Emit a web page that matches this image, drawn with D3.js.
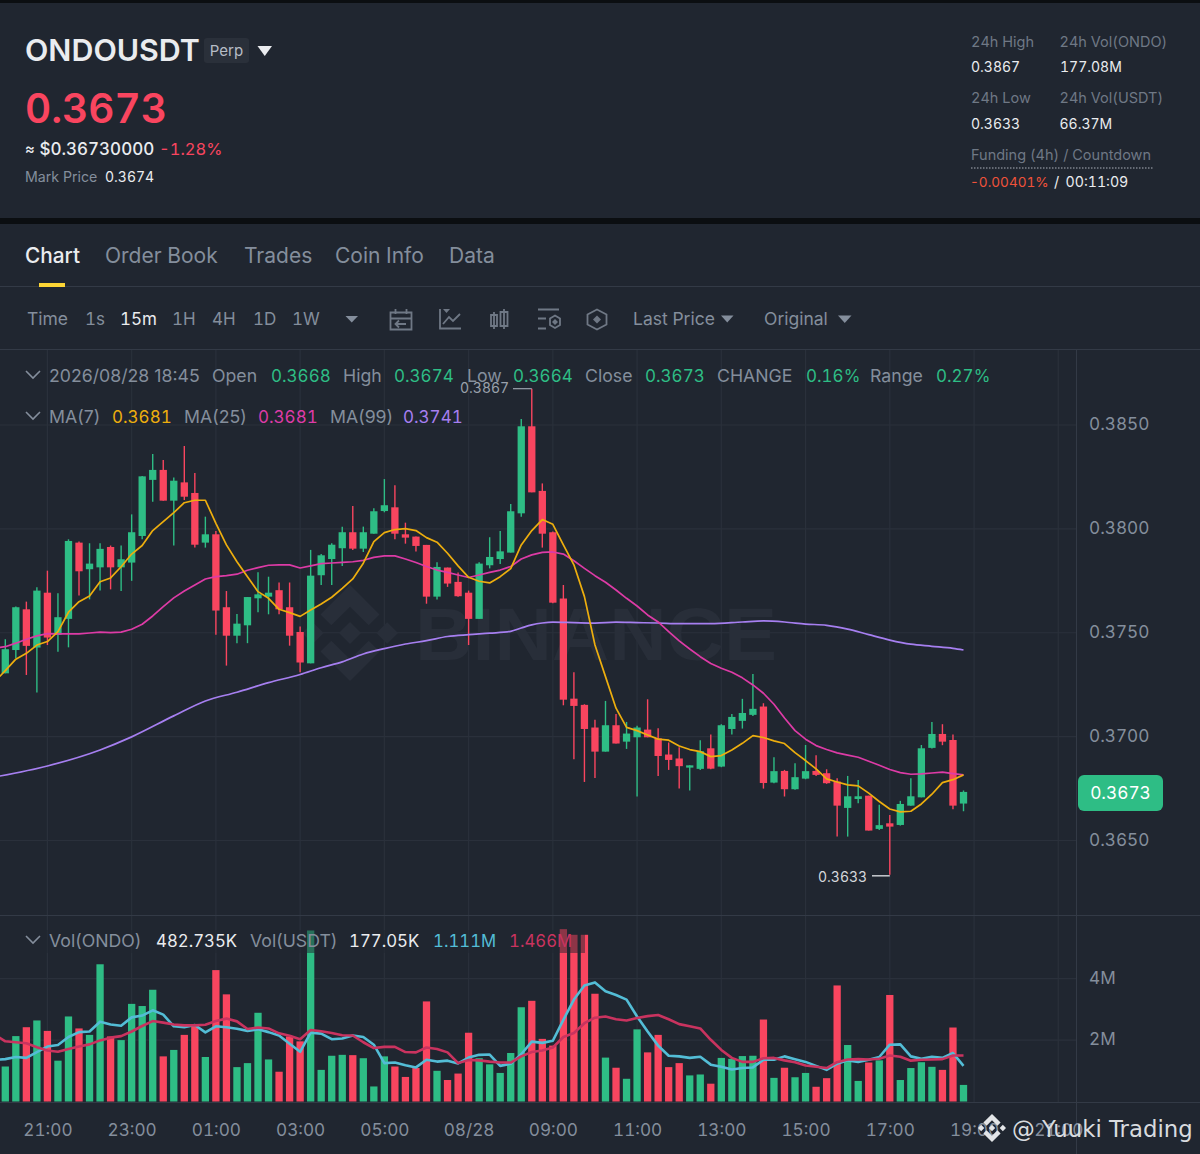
<!DOCTYPE html>
<html><head><meta charset="utf-8">
<script src="https://cdn.jsdelivr.net/npm/d3@7"></script>
<style>html,body{margin:0;padding:0;background:#202630;overflow:hidden}svg{display:block}text{font-family:Inter,"Noto Sans",sans-serif;font-variant-numeric:tabular-nums;font-feature-settings:"tnum" 1}</style>
</head><body><svg id="c" width="1200" height="1154"></svg>
<script>
// candles, index 0 = 20:00 on 08/27, 15 minute interval
const open=[.37300,.37412,.37608,.37424,.37688,.37485,.37562,.37929,.37801,.37810,.37908,.37810,.37833,.37961,.38231,.38279,.38131,.38219,.38168,.37929,.37969,.37618,.37481,.37531,.37661,.37669,.37700,.37618,.37499,.37348,.37772,.37850,.37902,.37979,.37900,.37972,.38081,.38099,.37969,.37958,.37918,.37669,.37809,.37740,.37688,.37562,.37820,.37850,.37881,.38070,.38489,.38178,.37979,.37660,.37178,.37148,.37039,.36923,.37050,.36971,.36992,.37029,.36987,.36909,.36890,.36846,.36840,.36939,.36851,.37032,.37071,.37100,.37140,.36774,.36830,.36742,.36793,.36830,.36819,.36779,.36652,.36695,.36711,.36551,.36578,.36570,.36663,.36703,.36941,.37008,.36979,.36673];
const high=[.37464,.37621,.37645,.37714,.37794,.37685,.37945,.37934,.37926,.37926,.37915,.37915,.38065,.38250,.38356,.38327,.38243,.38394,.38264,.38054,.37985,.37696,.37586,.37667,.37786,.37765,.37737,.37737,.37525,.37894,.37874,.37926,.38006,.38105,.38006,.38094,.38235,.38205,.38025,.37959,.37918,.37834,.37809,.37785,.37698,.37834,.37955,.37985,.38115,.38524,.38670,.38214,.37982,.37725,.37305,.37151,.37076,.37167,.37104,.37066,.37047,.37175,.37035,.36967,.36944,.36857,.36978,.37005,.37055,.37104,.37177,.37297,.37156,.36896,.36835,.36867,.36955,.36906,.36838,.36795,.36806,.36787,.36711,.36667,.36618,.36686,.36795,.36955,.37066,.37055,.37005,.36736];
const low=[.37300,.37372,.37292,.37207,.37436,.37404,.37425,.37674,.37656,.37698,.37704,.37696,.37745,.37945,.38126,.38131,.37915,.38134,.37905,.37905,.37485,.37337,.37445,.37445,.37594,.37584,.37584,.37433,.37305,.37348,.37725,.37725,.37817,.37894,.37884,.37972,.38075,.37945,.37924,.37886,.37635,.37655,.37716,.37669,.37436,.37562,.37805,.37826,.37881,.38054,.38171,.37905,.37637,.37146,.36886,.36777,.36796,.36923,.36962,.36936,.36707,.36992,.36806,.36835,.36745,.36736,.36835,.36838,.36848,.37005,.37034,.37095,.36745,.36771,.36707,.36739,.36790,.36806,.36768,.36514,.36514,.36675,.36543,.36546,.36330,.36567,.36663,.36703,.36938,.36954,.36646,.36636];
const close=[.37416,.37618,.37432,.37698,.37472,.37570,.37937,.37791,.37828,.37899,.37810,.37849,.37979,.38248,.38279,.38131,.38227,.38150,.37919,.37969,.37602,.37481,.37539,.37667,.37680,.37688,.37608,.37481,.37352,.37770,.37868,.37919,.37979,.37900,.37979,.38080,.38109,.37972,.37953,.37913,.37669,.37812,.37732,.37671,.37562,.37828,.37860,.37887,.38080,.38489,.38171,.37972,.37640,.37173,.37143,.37032,.36923,.37050,.36962,.37010,.37039,.36992,.36902,.36883,.36853,.36857,.36925,.36841,.37050,.37090,.37109,.37129,.36772,.36829,.36742,.36800,.36829,.36811,.36771,.36663,.36708,.36708,.36543,.36569,.36562,.36671,.36708,.36939,.37008,.36971,.36663,.36729];
// volume in millions per candle
const volume=[1.14,2.13,2.42,2.64,2.30,1.33,2.77,2.38,2.17,4.47,2.12,2.00,3.18,3.11,3.64,1.47,1.68,2.17,2.47,1.45,4.28,3.49,1.12,1.25,2.89,1.37,.97,2.12,1.96,5.57,1.03,1.49,1.52,1.51,1.41,.49,1.47,1.14,.80,1.09,3.26,1.00,.70,.91,2.24,1.41,1.21,.93,1.58,3.07,3.28,2.04,1.82,5.60,5.43,5.43,3.51,1.43,1.10,.74,2.35,1.60,2.17,1.12,1.25,.85,.88,.58,1.42,1.39,1.48,1.49,2.67,.77,1.10,.79,.93,.48,.76,3.78,1.84,.67,1.27,1.34,3.47,.70,1.09,1.28,1.13,1.03,2.41,.54];
// moving averages, first value belongs to index -1
const ma7=[.37260,.37313,.37368,.37396,.37436,.37453,.37501,.37594,.37645,.37672,.37741,.37759,.37813,.37874,.37915,.37987,.38030,.38073,.38121,.38133,.38133,.38022,.37918,.37837,.37765,.37693,.37661,.37608,.37592,.37574,.37605,.37634,.37666,.37709,.37754,.37830,.37934,.37977,.37992,.37996,.37987,.37953,.37931,.37878,.37817,.37762,.37743,.37735,.37765,.37804,.37918,.37987,.38040,.38017,.37918,.37822,.37669,.37436,.37284,.37132,.37040,.37024,.37003,.36983,.36978,.36950,.36933,.36923,.36899,.36904,.36931,.36963,.37000,.36991,.36975,.36962,.36918,.36880,.36840,.36792,.36777,.36763,.36758,.36723,.36683,.36647,.36633,.36636,.36671,.36718,.36774,.36788,.36811];
const ma25=[.37421,.37428,.37445,.37464,.37480,.37491,.37490,.37490,.37490,.37494,.37498,.37496,.37498,.37512,.37536,.37576,.37621,.37663,.37696,.37725,.37754,.37765,.37770,.37777,.37796,.37809,.37820,.37822,.37822,.37807,.37817,.37828,.37831,.37834,.37837,.37844,.37858,.37865,.37865,.37850,.37833,.37814,.37797,.37786,.37773,.37761,.37773,.37786,.37797,.37814,.37850,.37870,.37882,.37884,.37874,.37842,.37805,.37770,.37738,.37701,.37661,.37624,.37581,.37547,.37501,.37456,.37417,.37380,.37347,.37324,.37305,.37278,.37244,.37204,.37151,.37085,.37024,.36983,.36952,.36933,.36917,.36906,.36896,.36877,.36857,.36837,.36822,.36814,.36816,.36820,.36824,.36817,.36811];
const ma99Index=[-1,4,9,12,16,19,22,25,28,30,32,34,36,38,40,42,44,46,48,49,50,51,52,54,56,58,60,62,64,67,70,72,74,76,78,80,82,84,86,88,90,91];
const ma99=[.36801,.36854,.36931,.36994,.37095,.37167,.37209,.37255,.37294,.37327,.37355,.37393,.37419,.37441,.37457,.37477,.37486,.37493,.37502,.37518,.37533,.37542,.37546,.37544,.37542,.37546,.37544,.37542,.37539,.37539,.37547,.37552,.37547,.37537,.37531,.37513,.37486,.37460,.37440,.37430,.37420,.37412];
const volMaA=[1.36,1.38,1.45,1.42,1.61,1.79,1.84,2.10,2.26,2.28,2.60,2.51,2.47,2.74,2.80,2.97,2.83,2.45,2.42,2.49,2.25,2.45,2.42,2.37,2.30,2.35,2.26,2.15,1.88,1.62,2.24,2.21,2.03,2.05,2.15,2.10,1.85,1.25,1.27,1.18,1.11,1.36,1.30,1.33,1.24,1.43,1.52,1.53,1.16,1.23,1.54,1.95,1.91,1.98,2.66,3.32,3.78,3.88,3.59,3.47,3.32,2.77,2.28,1.82,1.49,1.47,1.42,1.46,1.20,1.13,1.04,1.09,1.11,1.36,1.36,1.47,1.38,1.29,1.16,1.03,1.23,1.34,1.29,1.36,1.45,1.85,1.86,1.47,1.39,1.46,1.42,1.58,1.16];
const volMaB=[2.17,1.96,1.93,1.90,1.77,1.66,1.62,1.71,1.79,1.86,1.99,2.08,2.13,2.28,2.46,2.62,2.57,2.51,2.48,2.48,2.50,2.62,2.70,2.61,2.36,2.41,2.38,2.22,2.14,2.03,2.33,2.29,2.23,2.16,2.15,1.93,1.74,1.78,1.78,1.61,1.60,1.76,1.71,1.60,1.25,1.35,1.34,1.30,1.27,1.27,1.47,1.61,1.66,1.76,2.10,2.23,2.55,2.73,2.77,2.68,2.64,2.72,2.78,2.82,2.68,2.52,2.45,2.38,2.01,1.68,1.42,1.29,1.29,1.41,1.42,1.34,1.28,1.17,1.13,1.09,1.28,1.37,1.38,1.37,1.39,1.50,1.46,1.33,1.36,1.37,1.38,1.50,1.50];
// axes
const priceTicks=[.385,.38,.375,.37,.365];
const volTicks=[2,4];
const timeIndex=[4,12,20,28,36,44,52,60,68,76,84,92,100];
const timeLabels=["21:00","23:00","01:00","03:00","05:00","08/28","09:00","11:00","13:00","15:00","17:00","19:00","21:00"];
// texts
const legendA=[["2026/08/28 18:45",49,0],["Open",212,0],["0.3668",271,1],["High",343,0],["0.3674",394,1],["Low",467,0],["0.3664",513,1],["Close",585,0],["0.3673",645,1],["CHANGE",717,0],["0.16%",806,1],["Range",870,0],["0.27%",936,1]];
const intervals=[["Time",27,0],["1s",85,0],["15m",120,1],["1H",172,0],["4H",212,0],["1D",253,0],["1W",292,0]];
const tabs=[["Chart",25,1],["Order Book",105,0],["Trades",244,0],["Coin Info",335,0],["Data",449,0]];

const GREEN="#2ebd85",RED="#f9455f",BG="#202630",GRID="#2a303b",LINE="#333a46",MUTED="#848e9c",LIGHT="#eaecef";
const svg=d3.select("#c");
svg.append("rect").attr("width",1200).attr("height",1154).attr("fill",BG);
svg.append("rect").attr("width",1200).attr("height",3).attr("fill","#0b0e11");
svg.append("rect").attr("y",218).attr("width",1200).attr("height",6).attr("fill","#0b0e11");
function T(s,x,y,size,fill,weight,anchor){return svg.append("text").attr("x",x).attr("y",y).attr("font-size",size).attr("fill",fill).attr("font-weight",weight||400).attr("text-anchor",anchor||"start").text(s);}
function P(t){return t.style("font-variant-numeric","normal").style("font-feature-settings","normal");}
function tri(x1,x2,y1,y2,fill){svg.append("path").attr("d",`M${x1},${y1}L${x2},${y1}L${(x1+x2)/2},${y2}Z`).attr("fill",fill);}

// header
T("ONDOUSDT",25,61,30.4,LIGHT,600);
svg.append("rect").attr("x",204).attr("y",38).attr("width",45).attr("height",25).attr("rx",3).attr("fill","#2a303a");
T("Perp",226.5,56,15,"#b7bdc6",400,"middle");
tri(257.5,272,46,56,LIGHT);
T("0.3673",25,123,40.5,RED,600);
T("≈",25,154,15,LIGHT,500);
T("$0.36730000",39.5,155,17,LIGHT,500);
T("-1.28%",159,155,16.5,RED,400);
T("Mark Price",25,182,14.2,MUTED);
T("0.3674",105,182,14,LIGHT);
[["24h High",971,47],["24h Vol(ONDO)",1059.5,47],["24h Low",971,103],["24h Vol(USDT)",1059.5,103],["Funding (4h) / Countdown",971,160]].forEach(d=>T(d[0],d[1],d[2],14.5,"#6f7885"));
[["0.3867",971,72],["177.08M",1060,72],["0.3633",971,129],["66.37M",1059.5,129]].forEach(d=>T(d[0],d[1],d[2],14,LIGHT));
svg.append("line").attr("x1",971).attr("x2",1153).attr("y1",168).attr("y2",168).attr("stroke","#aab0b9").attr("stroke-width",1.2).attr("stroke-dasharray","1.5 1.5");
T("-0.00401%",970,187,13.6,"#f0523a");
T("/",1054,187,14.5,LIGHT);
T("00:11:09",1065.5,187,14.2,LIGHT);

// tabs
tabs.forEach(d=>T(d[0],d[1],263,d[2]?20.8:21,d[2]?LIGHT:MUTED,d[2]?500:400));
svg.append("line").attr("x1",0).attr("x2",1200).attr("y1",286.5).attr("y2",286.5).attr("stroke",LINE);
svg.append("rect").attr("x",39).attr("y",283).attr("width",26).attr("height",4).attr("fill","#fcd535");
intervals.forEach(d=>T(d[0],d[1],325,d[0]==="Time"?17.5:17,d[2]?LIGHT:MUTED));
tri(345.5,358,316,322.5,MUTED);
T("Last Price",633,325,17.5,MUTED);tri(721,733.5,315.5,322.5,MUTED);
T("Original",764,325,17.5,MUTED);tri(838,851.5,315.5,323,MUTED);
svg.append("line").attr("x1",0).attr("x2",1200).attr("y1",349.5).attr("y2",349.5).attr("stroke",LINE);

// toolbar icons
const ICON="#6f7885";
const ic=svg.append("g").attr("fill","none").attr("stroke",ICON).attr("stroke-width",1.8);
ic.append("path").attr("d","M390.5,312.5H411.5V329.5H390.5ZM390.5,318.5H411.5M395.5,309V314M406.5,309V314M406,324H396M399,320.5L395.5,324L399,327.5");
ic.append("path").attr("d","M440,309V328.5H461M443,324L449,317L453,321L460,314");
ic.append("path").attr("fill",ICON).attr("stroke","none").attr("d","M443,309H450L446.5,313Z");
ic.append("path").attr("d","M494,312V329M491,315H497V326H491ZM504,309V329M500.5,312H507.5V326H500.5Z");
ic.append("path").attr("d","M538,309.5H559M538,318.5H546M538,328.5H546M555,315.5L560,318.5V325L555,328L550,325V318.5Z");
ic.append("path").attr("fill",ICON).attr("stroke","none").attr("d","M555,319L558,322L555,325L552,322Z");
ic.append("path").attr("d","M597,309.5L606.5,314.5V324.5L597,329.5L587.5,324.5V314.5Z");
ic.append("path").attr("fill",ICON).attr("stroke","none").attr("d","M597,315.5L601,319.5L597,323.5L593,319.5Z");

// scales
const xS=d3.scaleLinear().domain([0,91]).range([5.3,963.5]);
const yP=d3.scaleLinear().domain([.385,.365]).range([424,839.5]);
const yV=d3.scaleLinear().domain([0,4]).range([1101.5,978.7]);
const idx=d3.range(open.length);
const colr=i=>close[i]>=open[i]?GREEN:RED;
const indexed=a=>a.map((v,i)=>[i-1,v]);

// grid
const grid=svg.append("g").attr("stroke",GRID).attr("stroke-width",1.2);
grid.selectAll(".v").data(timeIndex).join("line").attr("x1",d=>xS(d)).attr("x2",d=>xS(d)).attr("y1",350).attr("y2",1103);
grid.selectAll(".h").data(priceTicks).join("line").attr("x1",0).attr("x2",1077).attr("y1",d=>yP(d)+1).attr("y2",d=>yP(d)+1);
grid.selectAll(".w").data(volTicks).join("line").attr("x1",0).attr("x2",1077).attr("y1",d=>yV(d)).attr("y2",d=>yV(d));
svg.append("line").attr("x1",1076.5).attr("x2",1076.5).attr("y1",350).attr("y2",1154).attr("stroke",LINE);
svg.append("line").attr("x1",0).attr("x2",1200).attr("y1",915.5).attr("y2",915.5).attr("stroke",LINE);
svg.append("line").attr("x1",0).attr("x2",1200).attr("y1",1102.5).attr("y2",1102.5).attr("stroke",LINE);

// binance watermark
const LOGO="M38.73 53.2l24.59-24.58 24.6 24.6 14.3-14.31L63.32 0 24.42 38.9zM0 63.31l14.3-14.31 14.31 14.31-14.31 14.3zM38.73 73.41l24.59 24.59 24.6-24.6 14.31 14.29-38.9 38.91-38.91-38.88-.02-.02zM98.01 63.31l14.3-14.31 14.31 14.31-14.31 14.3zM77.83 63.3L63.32 48.78 52.59 59.51l-1.24 1.23-2.54 2.54 14.51 14.5 14.51-14.47z";
function logo(cx,cy,size,fill,op){const k=size/126.61;svg.append("path").attr("d",LOGO).attr("fill",fill).attr("fill-opacity",op||1).attr("transform",`translate(${cx-size/2},${cy-size/2}) scale(${k})`);}
logo(350,633,96,"#282e39");
T("BINANCE",415,660,74,"#282e39",700).attr("textLength",362).attr("lengthAdjust","spacingAndGlyphs").style("font-family","'Liberation Sans',sans-serif");

// candles
const cg=svg.append("g");
cg.selectAll(".wick").data(idx).join("line").attr("x1",i=>xS(i)).attr("x2",i=>xS(i)).attr("y1",i=>yP(high[i])).attr("y2",i=>yP(low[i])).attr("stroke",colr).attr("stroke-width",1.4);
cg.selectAll(".body").data(idx).join("rect").attr("x",i=>xS(i)-3.65).attr("width",7.3).attr("y",i=>Math.min(yP(open[i]),yP(close[i]))).attr("height",i=>Math.max(1,Math.abs(yP(open[i])-yP(close[i])))).attr("fill",colr);

// MAs
const lineGen=d3.line().x(d=>xS(d[0])).y(d=>yP(d[1]));
const smoothGen=d3.line().x(d=>xS(d[0])).y(d=>yP(d[1])).curve(d3.curveMonotoneX);
[[smoothGen(ma99Index.map((k,i)=>[k,ma99[i]])),"#a67ff0"],[lineGen(indexed(ma25)),"#dd3ba6"],[lineGen(indexed(ma7)),"#edae0e"]].forEach(d=>{
  svg.append("path").attr("d",d[0]).attr("fill","none").attr("stroke",d[1]).attr("stroke-width",1.7).attr("stroke-linejoin","round");
});

// extremes
T("0.3867",460,393,14,"#9aa1ac");
svg.append("line").attr("x1",513).attr("x2",xS(50)).attr("y1",yP(high[50])).attr("y2",yP(high[50])).attr("stroke","#9aa1ac").attr("stroke-width",1.2);
T("0.3633",818,882,14,"#d5d8dc");
svg.append("line").attr("x1",872).attr("x2",xS(84)).attr("y1",yP(low[84])+1).attr("y2",yP(low[84])+1).attr("stroke","#d5d8dc").attr("stroke-width",1.4);

// volume
const vg=svg.append("g");
vg.selectAll("rect").data(idx).join("rect").attr("x",i=>xS(i)-3.65).attr("width",7.3).attr("y",i=>yV(volume[i])).attr("height",i=>yV(0)-yV(volume[i])).attr("fill",colr);
const volLine=d3.line().x(d=>xS(d[0])).y(d=>yV(d[1]));
svg.append("path").attr("d",volLine(indexed(volMaA))).attr("fill","none").attr("stroke","#53bdd6").attr("stroke-width",2.6).attr("stroke-linejoin","round");
svg.append("path").attr("d",volLine(indexed(volMaB))).attr("fill","none").attr("stroke","#c9335f").attr("stroke-width",2.6).attr("stroke-linejoin","round");

// legends
function chev(y){svg.append("path").attr("d",`M26,${y-4}L33,${y+3}L40,${y-4}`).attr("fill","none").attr("stroke",MUTED).attr("stroke-width",1.6);}
chev(375);chev(416);chev(940);
const LS=17.7,NS=17,VS=16.8;
legendA.forEach(d=>{const t=T(d[0],d[1],382,d[2]?NS:LS,d[2]?GREEN:MUTED);if(!d[2])P(t);});
P(T("MA(7)",49,423,LS,MUTED));T("0.3681",112,423,NS,"#edae0e");
P(T("MA(25)",184,423,LS,MUTED));T("0.3681",258,423,NS,"#dd3ba6");
P(T("MA(99)",330,423,LS,MUTED));T("0.3741",403,423,NS,"#a67ff0");
svg.append("rect").attr("x",44).attr("y",930).attr("width",541).attr("height",23).attr("fill",BG).attr("fill-opacity",.5);
P(T("Vol(ONDO)",49,947,LS,MUTED));T("482.735K",156,947,VS,LIGHT);
P(T("Vol(USDT)",250,947,LS,MUTED));T("177.05K",349,947,VS,LIGHT);
T("1.111M",433,947,VS,"#53bdd6");T("1.466M",509,947,VS,"#c9335f");

// axes
const axisStyle=g=>{g.select(".domain").remove();g.selectAll(".tick line").remove();g.selectAll("text").attr("fill",MUTED).attr("font-size",17.2);};
svg.append("g").attr("transform","translate(1089,0)").call(d3.axisRight(yP).tickValues(priceTicks).tickFormat(d3.format(".4f")).tickSize(0).tickPadding(0)).call(axisStyle);
svg.append("g").attr("transform","translate(1089,-1)").call(d3.axisRight(yV).tickValues(volTicks).tickFormat(d=>d+"M").tickSize(0).tickPadding(0)).call(axisStyle);
svg.append("g").attr("transform","translate(0,1116)").call(d3.axisBottom(xS).tickValues(timeIndex).tickFormat((d,i)=>timeLabels[i]).tickSize(0).tickPadding(8)).call(axisStyle);
svg.selectAll("g text").style("font-family","Inter,'Noto Sans',sans-serif");

// last price tag
svg.append("rect").attr("x",1078).attr("y",775).attr("width",85).attr("height",36).attr("rx",6).attr("fill",GREEN);
T("0.3673",1120.5,799,17.3,"#fff",400,"middle");

// author watermark
logo(992,1128,28,"#e3e5e8");
T("@ Yuuki Trading",1012,1137,22.8,"#d8dbdf").style("font-family","'DejaVu Sans',sans-serif");
</script></body></html>
